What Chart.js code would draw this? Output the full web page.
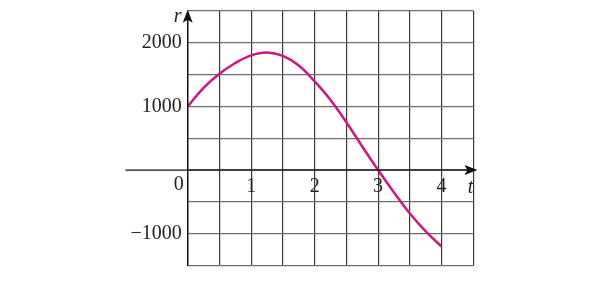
<!DOCTYPE html>
<html>
<head>
<meta charset="utf-8">
<script src="https://cdn.jsdelivr.net/npm/chart.js@4.4.1/dist/chart.umd.min.js"></script>
<style>
  body { margin: 0; background: #fff; }
  #wrap { width: 589px; height: 286px; }
</style>
</head>
<body>
<div id="wrap"><canvas id="chart"></canvas></div>
<script>
// time t and r(t)
const tValues = [0, 0.25, 0.5, 0.75, 1, 1.25, 1.5, 1.75, 2, 2.25, 2.5, 2.75, 3, 3.25, 3.5, 3.75, 4];
const rValues = [1000, 1290, 1510, 1680, 1800, 1845, 1790, 1640, 1390, 1100, 750, 370, 0, -350, -680, -960, -1200];
const xTickLabels = [1, 2, 3, 4];
const yTickLabels = [2000, 1000, -1000];

const serif = 'Liberation Serif';

const axesPlugin = {
  id: 'axes',
  afterDraw(chart) {
    const ctx = chart.ctx;
    const x = chart.scales.x, y = chart.scales.y;
    const x0 = x.getPixelForValue(0);
    const y0 = y.getPixelForValue(0);
    const top = chart.chartArea.top;
    const bottom = chart.chartArea.bottom;
    const xl = x.getPixelForValue(-0.98);
    const xr = x.getPixelForValue(4.55);

    ctx.save();
    ctx.strokeStyle = '#111';
    ctx.lineWidth = 1.4;
    ctx.beginPath();
    ctx.moveTo(xl, y0); ctx.lineTo(xr - 4, y0);
    ctx.moveTo(x0, bottom); ctx.lineTo(x0, top + 4);
    ctx.stroke();

    ctx.fillStyle = '#111';
    // right arrow
    ctx.beginPath();
    ctx.moveTo(xr + 1, y0);
    ctx.lineTo(xr - 12, y0 - 5);
    ctx.lineTo(xr - 9, y0);
    ctx.lineTo(xr - 12, y0 + 5);
    ctx.closePath();
    ctx.fill();
    // up arrow
    ctx.beginPath();
    ctx.moveTo(x0, top - 1);
    ctx.lineTo(x0 - 5, top + 12);
    ctx.lineTo(x0, top + 9);
    ctx.lineTo(x0 + 5, top + 12);
    ctx.closePath();
    ctx.fill();

    ctx.fillStyle = '#222';
    ctx.textBaseline = 'middle';
    ctx.textAlign = 'center';
    ctx.font = '20px "' + serif + '"';
    ctx.fillText('0', x0 - 9, y0 + 15);
    ctx.font = 'italic 20px "' + serif + '"';
    ctx.fillText('r', x0 - 10, top + 6);
    ctx.fillText('t', xr - 6, y0 + 18);
    ctx.restore();
  }
};

new Chart(document.getElementById('chart'), {
  type: 'line',
  data: {
    datasets: [{
      data: tValues.map((t, i) => ({ x: t, y: rValues[i] })),
      borderColor: '#d4157d',
      borderWidth: 2.5,
      pointRadius: 0,
      fill: false,
      tension: 0.4
    }]
  },
  options: {
    responsive: true,
    maintainAspectRatio: false,
    animation: false,
    layout: { padding: { left: 0, top: 10.7, right: 115.7, bottom: 20.3 } },
    plugins: { legend: { display: false }, tooltip: { enabled: false } },
    scales: {
      x: {
        type: 'linear',
        position: { y: 0 },
        min: 0, max: 4.5,
        border: { display: false },
        grid: { color: '#3a3a3a', lineWidth: 1.2, drawTicks: false },
        afterFit(s) { s.paddingLeft = 0; s.paddingRight = 0; },
        ticks: {
          stepSize: 0.5,
          padding: 5,
          color: '#222',
          font: { family: serif, size: 20 },
          maxRotation: 0,
          autoSkip: false,
          callback: v => xTickLabels.includes(v) ? String(v) : ''
        }
      },
      y: {
        min: -1500, max: 2500,
        border: { display: false },
        grid: { color: '#6e6e6e', lineWidth: 1.2, drawTicks: false },
        afterFit(s) { s.width = 187.7; s.paddingTop = 0; s.paddingBottom = 0; },
        ticks: {
          stepSize: 500,
          padding: 6,
          color: '#222',
          font: { family: serif, size: 20 },
          autoSkip: false,
          callback: v => yTickLabels.includes(v) ? String(v).replace('-', '\u2212') : ''
        }
      }
    }
  },
  plugins: [axesPlugin]
});
</script>
</body>
</html>
